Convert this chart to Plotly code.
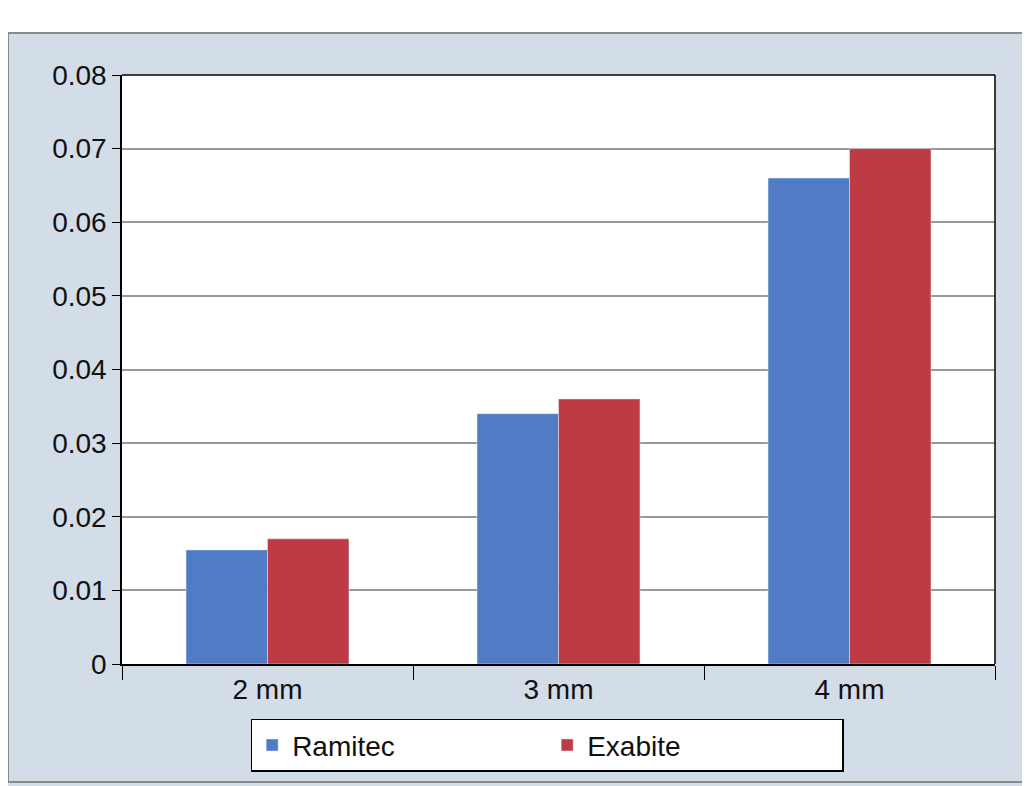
import plotly.graph_objects as go

categories = ["2 mm", "3 mm", "4 mm"]
ramitec = [0.0155, 0.034, 0.066]
exabite = [0.017, 0.036, 0.070]

fig = go.Figure()
fig.add_bar(x=categories, y=ramitec, name="Ramitec", marker_color="#4f7cc4")
fig.add_bar(x=categories, y=exabite, name="Exabite", marker_color="#be3a45")

# page body has 8px margin, so offset margins
L, R, T, B = 114, 43, 67, 130
W, H = 1030, 786
pw, ph = W - L - R, H - T - B
# white strip at top (figure px 0..25)
fig.add_shape(type="rect", xref="paper", yref="paper", layer="below",
              x0=-L / pw, x1=1 + R / pw, y0=1 + (T - 25) / ph, y1=1 + T / ph,
              fillcolor="white", line=dict(width=0))
# border of gray panel
fig.add_shape(type="rect", xref="paper", yref="paper", layer="above",
              x0=-L / pw, x1=1 + (R - 10) / pw,
              y0=-(B - 12) / ph, y1=1 + (T - 25) / ph,
              fillcolor="rgba(0,0,0,0)", line=dict(color="#8a8a8a", width=2))

fig.update_layout(
    width=W, height=H, margin=dict(l=L, r=R, t=T, b=B),
    paper_bgcolor="#d3dde8", plot_bgcolor="white",
    barmode="group", bargap=0.44, bargroupgap=0,
    font=dict(family="Liberation Sans, Arial", size=27, color="#111"),
    showlegend=True,
    legend=dict(orientation="h", x=0.487, y=-0.138, xanchor="center", yanchor="middle",
                bgcolor="white", bordercolor="black", borderwidth=1.5,
                entrywidth=250, font=dict(size=28)),
)
fig.update_yaxes(range=[0, 0.08],
                 tickvals=[0, 0.01, 0.02, 0.03, 0.04, 0.05, 0.06, 0.07, 0.08],
                 ticktext=["0", "0.01", "0.02", "0.03", "0.04", "0.05", "0.06", "0.07", "0.08"],
                 tickfont=dict(size=28),
                 showgrid=True, gridcolor="#999", gridwidth=1.5,
                 showline=True, linecolor="black", linewidth=1.5,
                 ticks="outside", ticklen=8, tickcolor="black", zeroline=False)
fig.update_xaxes(showline=True, linecolor="black", linewidth=1.5, tickfont=dict(size=28),
                 ticks="outside", tickson="boundaries", ticklen=14, tickcolor="black")
fig.add_shape(type="line", xref="paper", yref="paper", x0=0, x1=1, y0=1, y1=1,
              line=dict(color="black", width=1.5))
fig.add_shape(type="line", xref="paper", yref="paper", x0=1, x1=1, y0=0, y1=1,
              line=dict(color="black", width=1.5))
fig.write_html("out.html")
